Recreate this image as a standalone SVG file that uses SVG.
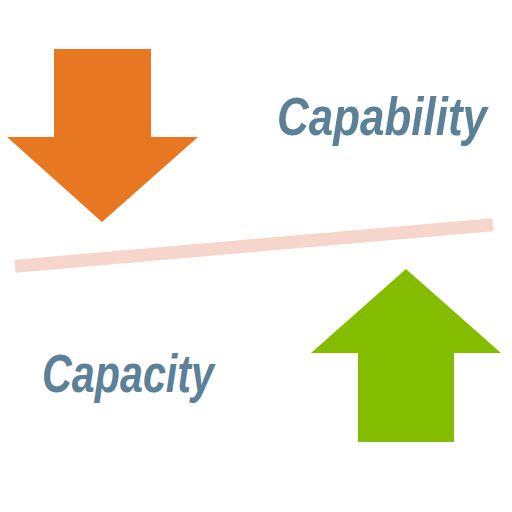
<svg xmlns="http://www.w3.org/2000/svg" width="512" height="512" viewBox="0 0 512 512">
<style>
.lbl{font-family:"Liberation Sans",Arial,sans-serif;font-weight:bold;font-style:italic;font-size:54px;fill:#5B8199}
</style>
<rect width="512" height="512" fill="#FFFFFF"/>
<g id="down-arrow">
<polygon points="54,49 151,49 151,137 198,137 102,222 7,137 54,137" fill="#E87722"/>
</g>
<g id="up-arrow">
<polygon points="406,269 501,353 454,353 454,442 358,442 358,353 311,353" fill="#84BD00"/>
</g>
<g id="connectors">
<line x1="15" y1="266.3" x2="493" y2="224.7" stroke="#F6D5CB" stroke-width="13"/>
</g>
<g id="capability">
<text class="lbl" x="277" y="135" textLength="210" lengthAdjust="spacingAndGlyphs">Capability</text>
</g>
<g id="capacity">
<text class="lbl" x="42" y="391.5" textLength="172" lengthAdjust="spacingAndGlyphs">Capacity</text>
</g>
</svg>
